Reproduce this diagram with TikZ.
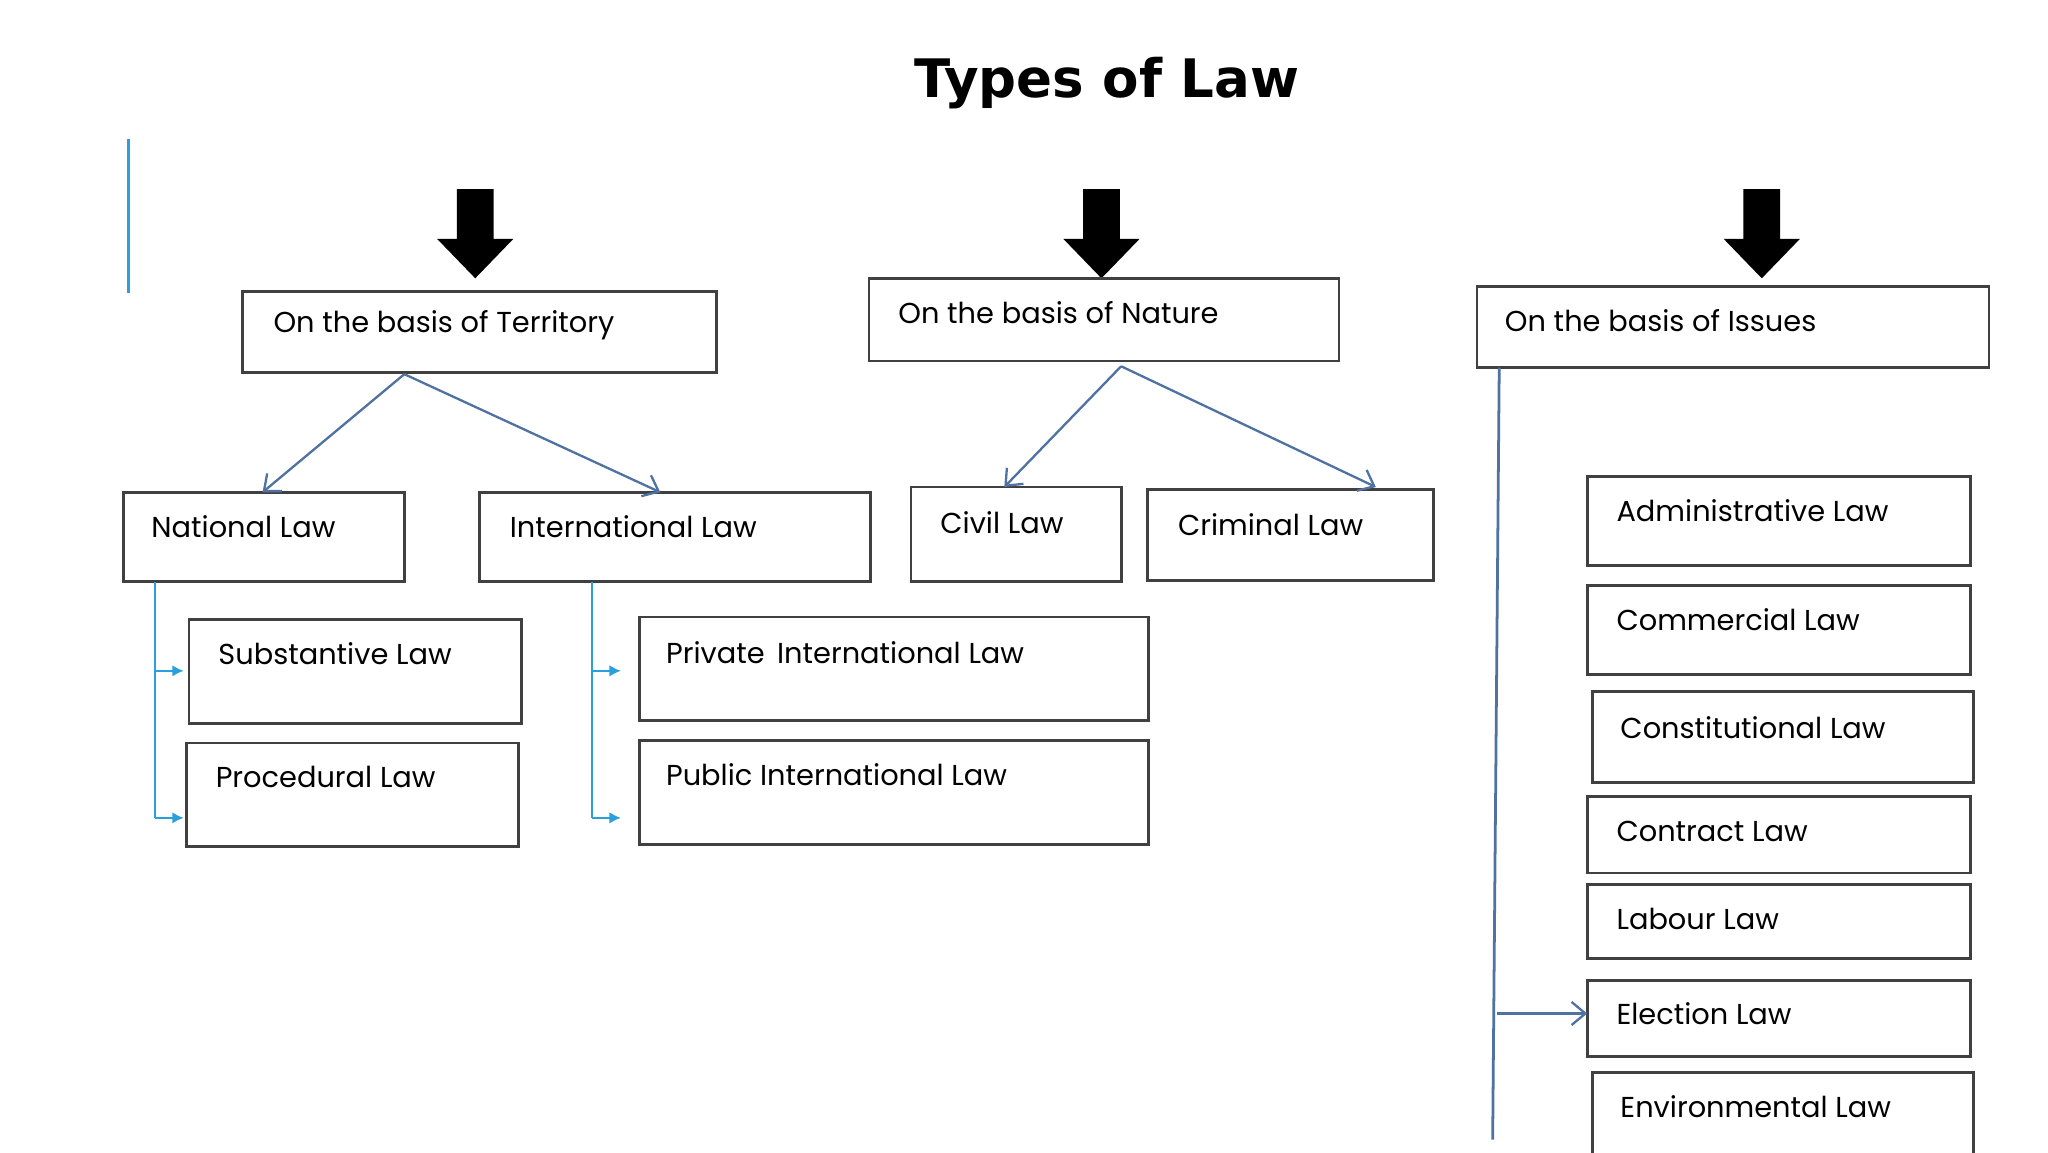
\documentclass[tikz,border=0pt]{standalone}
\usepackage{fontspec}
\setmainfont{Poppins}
\newfontfamily\titlefont{DejaVu Sans}
\usetikzlibrary{arrows.meta}
\definecolor{steel}{RGB}{79,114,160}
\definecolor{cy}{RGB}{40,160,220}
\begin{document}
\begin{tikzpicture}[x=0.02cm,y=-0.02cm,
  lbl/.style={anchor=west,inner sep=0pt,font=\fontsize{12.5}{14}\selectfont},
  boxl/.style={draw=black!75,line width=1.2pt},
  conn/.style={draw=steel,line width=1pt,-{Straight Barb[length=6pt,width=10pt]}},
  cyl/.style={draw=cy,line width=0.9pt},
  cya/.style={draw=cy,line width=0.9pt,-{Latex[length=5pt,width=5pt]}},
  bigarrow/.style={fill=black}]
\useasboundingbox (0,0) rectangle (1560,878);
\fill[white] (0,0) rectangle (1560,878);
\node[font=\titlefont\bfseries\fontsize{23}{26}\selectfont] (title) at (843,63) {Types of Law};
\draw[cy,line width=1.5pt] (98,106) coordinate (cl1) -- (98,223) coordinate (cl2);
% big arrows
\foreach \x/\n in {362/a1,839/a2,1342/a3}{
  \fill[bigarrow] (\x-14,144) -- (\x+14,144) -- (\x+14,182) -- (\x+29,182) -- (\x,212) -- (\x-29,182) -- (\x-14,182) -- cycle;
}
% boxes
\draw[boxl] (185,222) rectangle (546,284); \node[lbl] (terr) at (208,248) {On the basis of Territory};
\draw[boxl] (662,212) rectangle (1020,275); \node[lbl] (nat) at (684,238) {On the basis of Nature};
\draw[boxl] (1125,218) rectangle (1515,280); \node[lbl] (iss) at (1146,244) {On the basis of Issues};
\draw[boxl] (94,375) rectangle (308,443); \node[lbl] (natl) at (115,401) {National Law};
\draw[boxl] (365,375) rectangle (663,443); \node[lbl] (intl) at (388,401) {International Law};
\draw[boxl] (694,371) rectangle (854,443); \node[lbl] (civ) at (716,398) {Civil Law};
\draw[boxl] (874,373) rectangle (1092,442); \node[lbl] (crim) at (897,400) {Criminal Law};
\draw[boxl] (144,472) rectangle (397,551); \node[lbl] (sub) at (166,498) {Substantive Law};
\draw[boxl] (142,566) rectangle (395,645); \node[lbl] (proc) at (164,592) {Procedural Law};
\draw[boxl] (487,470) rectangle (875,549); \node[lbl] (priv) at (507,497) {Private\, International Law};
\draw[boxl] (487,564) rectangle (875,643); \node[lbl] (pub) at (507,590) {Public International Law};
\draw[boxl] (1209,363) rectangle (1501,431); \node[lbl] (adm) at (1231,389) {Administrative Law};
\draw[boxl] (1209,446) rectangle (1501,514); \node[lbl] (com) at (1231,472) {Commercial Law};
\draw[boxl] (1213,527) rectangle (1503,596); \node[lbl] (con) at (1234,554) {Constitutional Law};
\draw[boxl] (1209,607) rectangle (1501,665); \node[lbl] (ctr) at (1231,633) {Contract Law};
\draw[boxl] (1209,674) rectangle (1501,730); \node[lbl] (lab) at (1231,700) {Labour Law};
\draw[boxl] (1209,747) rectangle (1501,805); \node[lbl] (ele) at (1231,772) {Election Law};
\draw[boxl] (1213,817) rectangle (1503,890); \node[lbl] (env) at (1234,843) {Environmental Law};
% connectors
\coordinate (t0) at (308,285); \coordinate (t1) at (200,375); \coordinate (t2) at (503,375);
\draw[conn] (t0) -- (t1); \draw[conn] (t0) -- (t2);
\coordinate (n0) at (854,279); \coordinate (n1) at (765,371); \coordinate (n2) at (1048,371);
\draw[conn] (n0) -- (n1); \draw[conn] (n0) -- (n2);
\coordinate (i0) at (1142,280); \coordinate (i1) at (1137,868); \coordinate (i2) at (1140,772); \coordinate (i3) at (1209,772);
\draw[steel,line width=1.2pt] (i0) -- (i1);
\draw[conn] (i2) -- (i3);
% cyan brackets
\foreach \x in {118,451}{
  \draw[cyl] (\x,443) -- (\x,623);
  \draw[cya] (\x,511) -- (\x+22,511);
  \draw[cya] (\x,623) -- (\x+22,623);
}
\end{tikzpicture}
\end{document}
